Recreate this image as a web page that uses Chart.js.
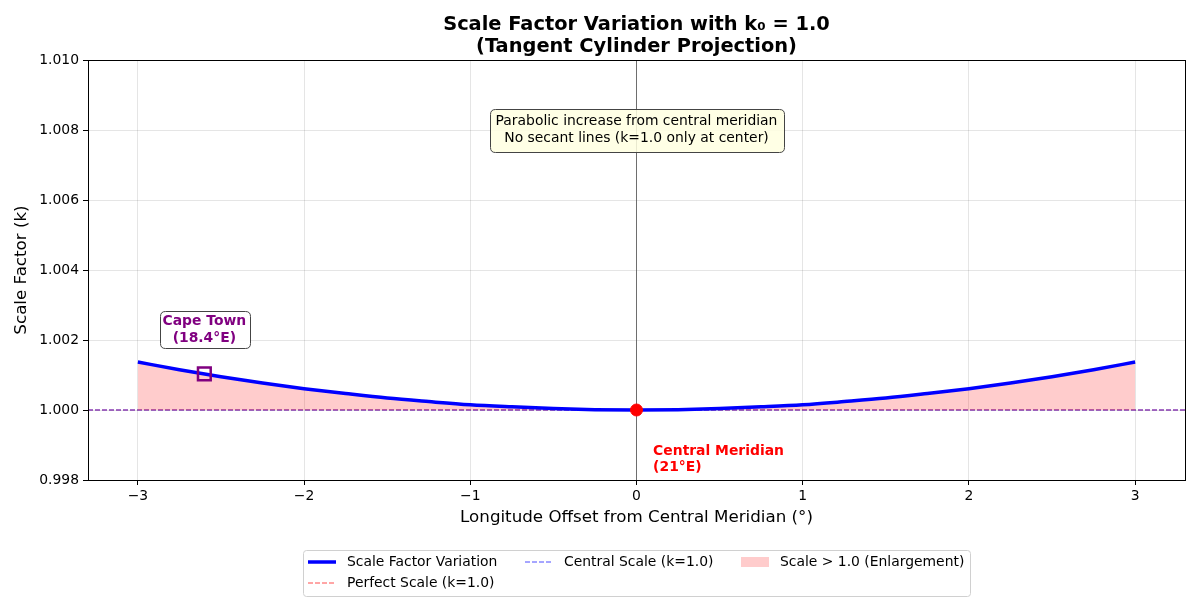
<!DOCTYPE html>
<html>
<head>
<meta charset="utf-8">
<script src="https://cdn.jsdelivr.net/npm/chart.js@4/dist/chart.umd.min.js"></script>
<style>
  html, body { margin: 0; padding: 0; background: #fff; }
  #wrap { width: 1200px; height: 600px; }
</style>
</head>
<body>
<div id="wrap"><canvas id="scaleChart" width="1200" height="600"></canvas></div>
<script>
// values
const offsets = [-3, -2.75, -2.5, -2.25, -2, -1.75, -1.5, -1.25, -1, -0.75, -0.5, -0.25, 0,
  0.25, 0.5, 0.75, 1, 1.25, 1.5, 1.75, 2, 2.25, 2.5, 2.75, 3];
const scaleFactor = [1.00137, 1.00115, 1.00095, 1.00077, 1.00061, 1.00047, 1.00034, 1.00024, 1.00015, 1.00009, 1.00004, 1.00001, 1.00000,
  1.00001, 1.00004, 1.00009, 1.00015, 1.00024, 1.00034, 1.00047, 1.00061, 1.00077, 1.00095, 1.00115, 1.00137];
const xTicks = [-3, -2, -1, 0, 1, 2, 3];
const yTicks = [0.998, 1.000, 1.002, 1.004, 1.006, 1.008, 1.010];
const xRange = [-3.3, 3.3];
const yRange = [0.998, 1.010];
const refScale = 1.0;
const centralOffset = 0;
const capeTown = { offset: -2.6, k: 1.00103 };

const FONT = "'DejaVu Sans', sans-serif";

const curve = offsets.map((x, i) => ({ x: x, y: scaleFactor[i] }));
const hLine = xRange.map(x => ({ x: x, y: refScale }));
const vLine = yRange.map(y => ({ x: centralOffset, y: y }));

function roundRect(c, x, y, w, h, r) {
  c.beginPath();
  c.moveTo(x + r, y);
  c.lineTo(x + w - r, y);
  c.quadraticCurveTo(x + w, y, x + w, y + r);
  c.lineTo(x + w, y + h - r);
  c.quadraticCurveTo(x + w, y + h, x + w - r, y + h);
  c.lineTo(x + r, y + h);
  c.quadraticCurveTo(x, y + h, x, y + h - r);
  c.lineTo(x, y + r);
  c.quadraticCurveTo(x, y, x + r, y);
  c.closePath();
}

function textBox(c, lines, cx, cy, opts) {
  c.font = opts.font;
  const lh = opts.lineHeight;
  let w = 0;
  lines.forEach(l => { w = Math.max(w, c.measureText(l).width); });
  const bw = w + opts.padX * 2, bh = lh * lines.length + opts.padY * 2;
  roundRect(c, Math.round(cx - bw / 2) + 0.5, Math.round(cy - bh / 2) + 0.5, Math.round(bw), Math.round(bh), 5);
  c.fillStyle = opts.bg;
  c.fill();
  c.lineWidth = 1;
  c.strokeStyle = opts.border;
  c.stroke();
  c.fillStyle = opts.color;
  c.textAlign = 'center';
  c.textBaseline = 'middle';
  lines.forEach((l, i) => {
    c.fillText(l, cx, cy - (lines.length - 1) * lh / 2 + i * lh);
  });
}

const extras = {
  id: 'extras',
  afterDraw(chart) {
    const c = chart.ctx;
    const xs = chart.scales.x, ys = chart.scales.y;
    const area = chart.chartArea;
    c.save();

    // full frame round the plot
    c.strokeStyle = '#000';
    c.lineWidth = 1;
    c.strokeRect(Math.round(area.left) + 0.5, Math.round(area.top) + 0.5,
      Math.round(area.right - area.left), Math.round(area.bottom - area.top));

    // title
    c.fillStyle = '#000';
    c.textAlign = 'center';
    c.textBaseline = 'middle';
    c.font = 'bold 19.4px ' + FONT;
    const mid = (area.left + area.right) / 2;
    c.fillText('Scale Factor Variation with k₀ = 1.0', mid, 25);
    c.fillText('(Tangent Cylinder Projection)', mid, 47);

    // info box
    textBox(c, ['Parabolic increase from central meridian', 'No secant lines (k=1.0 only at center)'],
      xs.getPixelForValue(0), ys.getPixelForValue(1.008), {
        font: '13.9px ' + FONT, lineHeight: 16.5, padX: 6, padY: 5,
        bg: 'rgba(255,255,224,0.85)', border: '#444', color: '#000'
      });

    // Cape Town label
    textBox(c, ['Cape Town', '(18.4°E)'],
      xs.getPixelForValue(capeTown.offset), ys.getPixelForValue(1.00229), {
        font: 'bold 13.9px ' + FONT, lineHeight: 16.5, padX: 3, padY: 2,
        bg: 'rgba(255,255,255,0.9)', border: '#444', color: '#800080'
      });

    // central meridian text
    c.font = 'bold 13.9px ' + FONT;
    c.fillStyle = '#ff0000';
    c.textAlign = 'left';
    c.textBaseline = 'middle';
    const tx = xs.getPixelForValue(0.1);
    const ty = ys.getPixelForValue(0.99883);
    c.fillText('Central Meridian', tx, ty);
    c.fillText('(21°E)', tx, ty + 16.5);

    // legend
    const lx = 303, ly = 550, lw = 667, lh = 46;
    roundRect(c, lx + 0.5, ly + 0.5, lw, lh, 3);
    c.fillStyle = 'rgba(255,255,255,0.9)';
    c.fill();
    c.strokeStyle = '#d0d0d0';
    c.lineWidth = 1;
    c.stroke();

    c.font = '13.9px ' + FONT;
    c.textAlign = 'left';
    c.fillStyle = '#000';
    const items = [
      { text: 'Scale Factor Variation', x: 308, y: 562, kind: 'line', color: '#0000ff', w: 3.5, dash: [] },
      { text: 'Perfect Scale (k=1.0)', x: 308, y: 583, kind: 'line', color: 'rgba(255,0,0,0.7)', w: 1, dash: [5, 2] },
      { text: 'Central Scale (k=1.0)', x: 525, y: 562, kind: 'line', color: 'rgba(0,0,255,0.7)', w: 1, dash: [5, 2] },
      { text: 'Scale > 1.0 (Enlargement)', x: 741, y: 562, kind: 'patch', color: 'rgba(255,0,0,0.2)' }
    ];
    items.forEach(it => {
      if (it.kind === 'line') {
        c.beginPath();
        c.setLineDash(it.dash);
        c.strokeStyle = it.color;
        c.lineWidth = it.w;
        c.moveTo(it.x, it.y);
        c.lineTo(it.x + 28, it.y);
        c.stroke();
        c.setLineDash([]);
      } else {
        c.fillStyle = it.color;
        c.fillRect(it.x, it.y - 5, 28, 10);
      }
      c.fillStyle = '#000';
      c.fillText(it.text, it.x + 39, it.y);
    });

    c.restore();
  }
};

new Chart(document.getElementById('scaleChart').getContext('2d'), {
  type: 'scatter',
  data: {
    datasets: [
      {
        label: 'Scale Factor Variation',
        data: curve,
        showLine: true,
        borderColor: '#0000ff',
        borderWidth: 3.5,
        pointRadius: 0,
        cubicInterpolationMode: 'monotone',
        fill: { value: refScale },
        backgroundColor: 'rgba(255,0,0,0.2)',
        order: 3
      },
      {
        label: 'Perfect Scale (k=1.0)',
        data: hLine,
        showLine: true,
        borderColor: 'rgba(255,0,0,0.7)',
        borderWidth: 1,
        borderDash: [5, 2],
        pointRadius: 0,
        order: 5
      },
      {
        label: 'Central Scale (k=1.0)',
        data: hLine,
        showLine: true,
        borderColor: 'rgba(0,0,255,0.7)',
        borderWidth: 1,
        borderDash: [5, 2],
        pointRadius: 0,
        order: 4
      },
      {
        label: 'Central meridian',
        data: vLine,
        showLine: true,
        borderColor: 'rgba(80,80,80,0.8)',
        borderWidth: 1,
        pointRadius: 0,
        order: 6
      },
      {
        label: 'Central point',
        data: [{ x: centralOffset, y: refScale }],
        pointRadius: 6,
        pointBackgroundColor: '#ff0000',
        pointBorderColor: '#ff0000',
        order: 1
      },
      {
        label: 'Cape Town',
        data: [{ x: capeTown.offset, y: capeTown.k }],
        pointStyle: 'rect',
        pointRadius: 9,
        pointBackgroundColor: 'rgba(0,0,0,0)',
        pointBorderColor: '#800080',
        pointBorderWidth: 2.5,
        order: 2
      }
    ]
  },
  options: {
    responsive: false,
    animation: false,
    layout: { padding: { left: 8, top: 60, right: 15, bottom: 68 } },
    plugins: {
      legend: { display: false },
      tooltip: { enabled: false }
    },
    scales: {
      x: {
        type: 'linear',
        min: xRange[0],
        max: xRange[1],
        afterBuildTicks: s => { s.ticks = xTicks.map(v => ({ value: v })); },
        afterFit: s => { s.height = 52; },
        ticks: {
          font: { family: FONT, size: 13.9 },
          color: '#000',
          padding: 3,
          callback: v => (v < 0 ? '\u2212' + Math.abs(v) : String(v))
        },
        grid: { color: 'rgba(0,0,0,0.1)', tickColor: '#000', tickLength: 5 },
        border: { color: '#000', width: 1 },
        title: {
          display: true,
          text: 'Longitude Offset from Central Meridian (°)',
          font: { family: FONT, size: 16.7 },
          color: '#000',
          padding: { top: 4, bottom: 4 }
        }
      },
      y: {
        type: 'linear',
        min: yRange[0],
        max: yRange[1],
        afterBuildTicks: s => { s.ticks = yTicks.map(v => ({ value: v })); },
        afterFit: s => { s.width = 80; },
        ticks: {
          font: { family: FONT, size: 13.9 },
          color: '#000',
          padding: 4,
          callback: v => v.toFixed(3)
        },
        grid: { color: 'rgba(0,0,0,0.1)', tickColor: '#000', tickLength: 5 },
        border: { color: '#000', width: 1 },
        title: {
          display: true,
          text: 'Scale Factor (k)',
          font: { family: FONT, size: 16.7 },
          color: '#000',
          padding: { top: 4, bottom: 4 }
        }
      }
    }
  },
  plugins: [extras]
});
</script>
</body>
</html>
